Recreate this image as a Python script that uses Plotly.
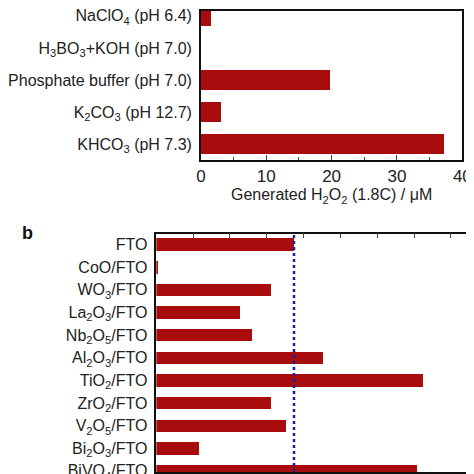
import plotly.graph_objects as go

# Panel a
a_labels = ["NaClO<sub>4</sub> (pH 6.4)", "H<sub>3</sub>BO<sub>3</sub>+KOH (pH 7.0)",
            "Phosphate buffer (pH 7.0)", "K<sub>2</sub>CO<sub>3</sub> (pH 12.7)",
            "KHCO<sub>3</sub> (pH 7.3)"]
a_values = [1.5, 0.0, 19.7, 3.1, 37.2]

# Panel b (arbitrary units, no tick labels shown)
b_labels = ["FTO", "CoO/FTO", "WO<sub>3</sub>/FTO", "La<sub>2</sub>O<sub>3</sub>/FTO",
            "Nb<sub>2</sub>O<sub>5</sub>/FTO", "Al<sub>2</sub>O<sub>3</sub>/FTO",
            "TiO<sub>2</sub>/FTO", "ZrO<sub>2</sub>/FTO", "V<sub>2</sub>O<sub>5</sub>/FTO",
            "Bi<sub>2</sub>O<sub>3</sub>/FTO", "BiVO<sub>4</sub>/FTO"]
b_values = [3.74, 0.05, 3.13, 2.29, 2.6, 4.55, 7.26, 3.13, 3.54, 1.17, 7.1]

red = "#a80c0c"
font = dict(family="Liberation Sans, Arial", size=16, color="#222")

fig = go.Figure()
fig.add_trace(go.Bar(x=a_values, y=list(range(len(a_labels))), orientation="h",
                     marker=dict(color=red, line=dict(width=0)), width=0.62,
                     xaxis="x", yaxis="y", showlegend=False))
fig.add_trace(go.Bar(x=b_values, y=list(range(len(b_labels))), orientation="h",
                     marker=dict(color=red, line=dict(width=0)), width=0.55,
                     xaxis="x2", yaxis="y2", showlegend=False))

W = H = 474
ax_common = dict(showline=True, linecolor="#111", linewidth=1.5, mirror=True,
                 showgrid=False, zeroline=False)
fig.update_layout(
    width=W, height=H, margin=dict(l=0, r=0, t=0, b=0),
    plot_bgcolor="white", paper_bgcolor="white", font=font, bargap=0,
    xaxis=dict(domain=[193/W, 463/W], range=[0, 40], anchor="y",
               ticks="inside", tickvals=[0, 10, 20, 30, 40], ticklen=5,
               minor=dict(ticks="inside", dtick=5, ticklen=3),
               title=dict(text="Generated H<sub>2</sub>O<sub>2</sub> (1.8C) / μM",
                          standoff=4, font=dict(size=16)),
               tickfont=dict(size=17), ticklabeloverflow="allow", **ax_common),
    yaxis=dict(domain=[1-153/H, 1], range=[4.485, -0.15], anchor="x",
               tickvals=list(range(len(a_labels))), ticktext=a_labels,
               ticks="", ticklabelstandoff=4, ticklabeloverflow="allow", **ax_common),
    xaxis2=dict(domain=[147/W, 472/W], range=[0, 8.55], anchor="y2", side="top",
                ticks="inside", dtick=1, ticklen=5, showticklabels=False, **ax_common),
    yaxis2=dict(domain=[0, 1-229/H], range=[10.05, -0.47], anchor="x2",
                tickvals=list(range(len(b_labels))), ticktext=b_labels,
                ticks="", ticklabelstandoff=4, ticklabeloverflow="allow", **ax_common),
    shapes=[dict(type="line", xref="x2", yref="y2 domain", x0=b_values[0], x1=b_values[0],
                 y0=0, y1=1, line=dict(color="#1a1a9a", width=2.5, dash="dot"))],
    annotations=[dict(text="<b>b</b>", xref="paper", yref="paper", x=14/W, y=1-228/H,
                      showarrow=False, font=dict(size=18, color="#111"),
                      xanchor="center", yanchor="middle")],
)
fig.write_html("out.html")
